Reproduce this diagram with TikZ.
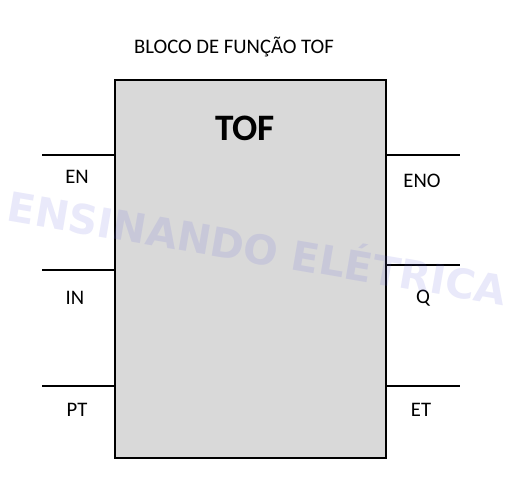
\documentclass[tikz,border=0pt]{standalone}
\usepackage{fontspec}
\setmainfont{Carlito}
\newfontfamily\wmfont{DejaVu Sans}
\begin{document}
\begin{tikzpicture}[x=0.75pt,y=-0.75pt,
  pin/.style={line width=1.6pt,black},
  lbl/.style={font=\fontsize{15.5}{18}\selectfont,inner sep=0pt},
  blockbox/.style={draw=black,line width=1.6pt,fill={rgb,255:red,217;green,217;blue,217}}]
\useasboundingbox (0,0) rectangle (511,493);
\fill[white] (0,0) rectangle (511,493);
\draw[blockbox] (115,80) rectangle (386,458);
\node[font=\fontsize{28}{32}\selectfont\bfseries,inner sep=0pt] (tof) at (245,128) {TOF};
\node[lbl] (title) at (234,47) {BLOCO DE FUNÇÃO TOF};
% left pins
\coordinate (enA) at (42,155); \coordinate (enB) at (115,155);
\coordinate (inA) at (42,270); \coordinate (inB) at (115,270);
\coordinate (ptA) at (42,386); \coordinate (ptB) at (115,386);
% right pins
\coordinate (enoA) at (386,155); \coordinate (enoB) at (460,155);
\coordinate (qA) at (386,265); \coordinate (qB) at (460,265);
\coordinate (etA) at (386,386); \coordinate (etB) at (460,386);
\draw[pin] (enA) -- (enB);
\draw[pin] (inA) -- (inB);
\draw[pin] (ptA) -- (ptB);
\draw[pin] (enoA) -- (enoB);
\draw[pin] (qA) -- (qB);
\draw[pin] (etA) -- (etB);
\node[lbl] (en) at (77,177) {EN};
\node[lbl] (in) at (75,298) {IN};
\node[lbl] (pt) at (77,410) {PT};
\node[lbl] (eno) at (422,181) {ENO};
\node[lbl] (q) at (423,298) {Q};
\node[lbl] (et) at (421,410) {ET};
\node[rotate=-9.7,text={rgb,255:red,100;green,100;blue,220},text opacity=0.14,font=\wmfont\bfseries\fontsize{30.5}{34}\selectfont,inner sep=0pt] (wm) at (258,245) {ENSINANDO ELÉTRICA};
\end{tikzpicture}
\end{document}
